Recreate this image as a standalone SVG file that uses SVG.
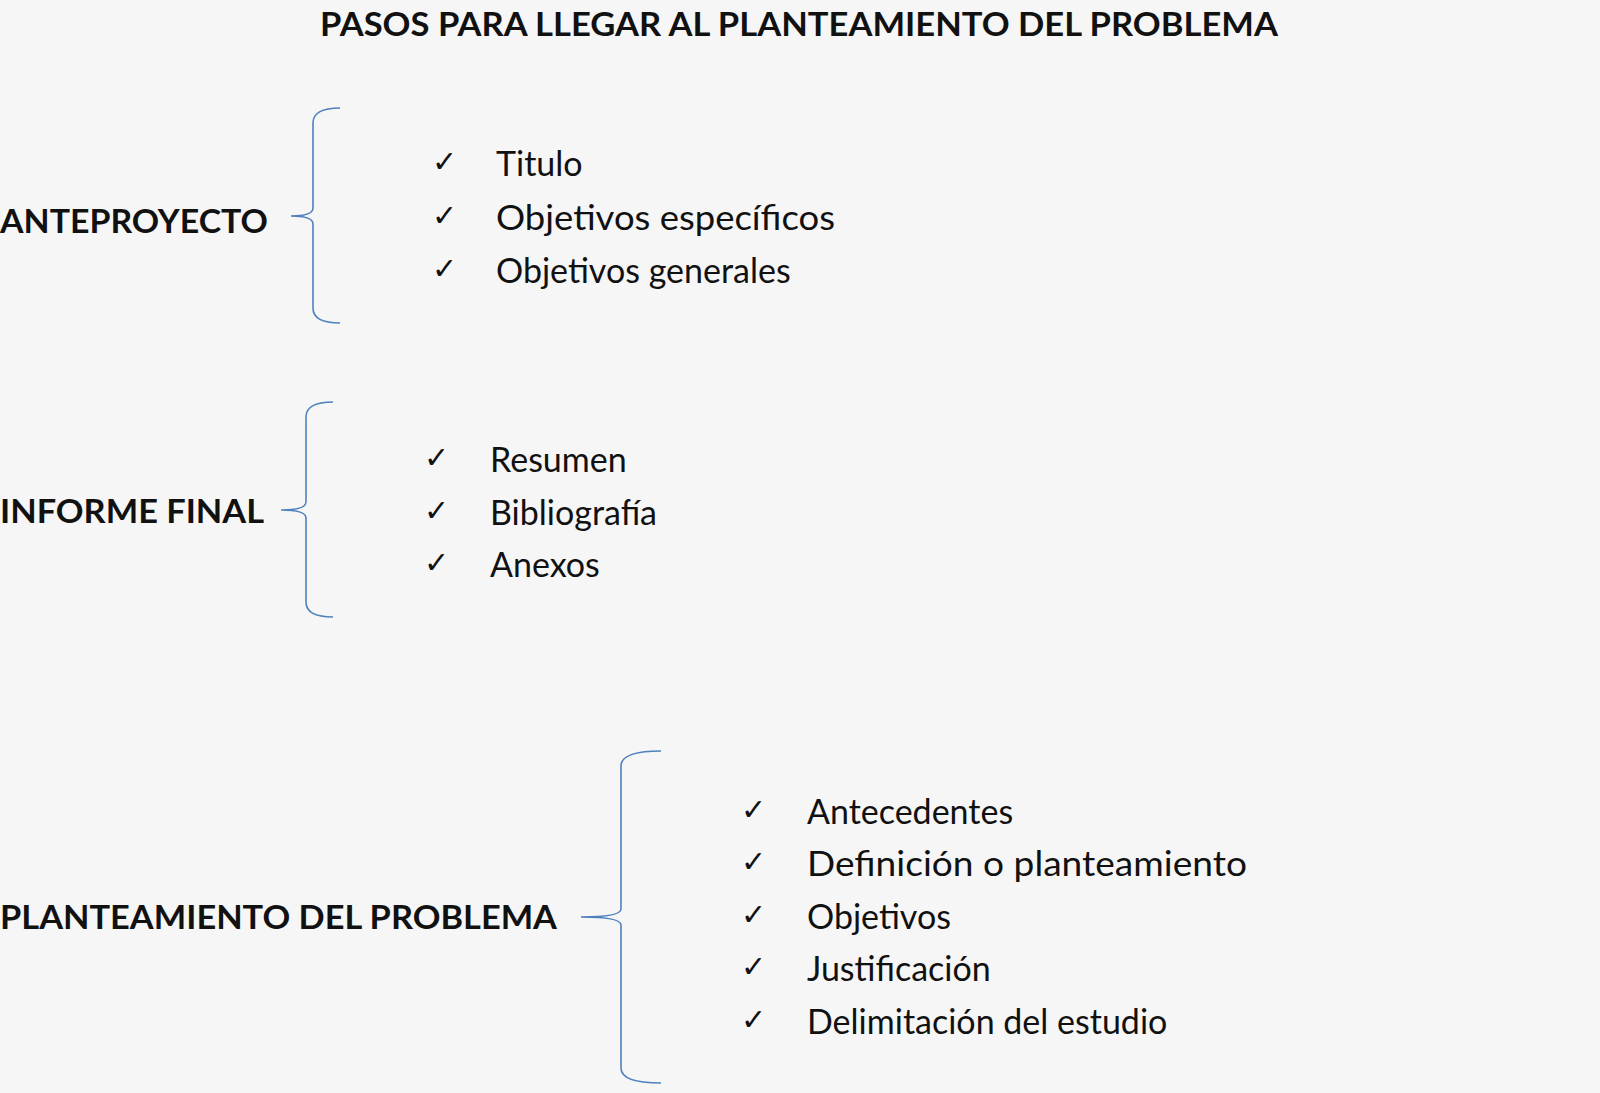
<svg xmlns="http://www.w3.org/2000/svg" width="1600" height="1093" viewBox="0 0 1600 1093">
<style>
text{font-family:Lato,"Open Sans","Liberation Sans",sans-serif;fill:#111}
.h{font-weight:bold;font-size:33px}
.i{font-size:34px}
.c{font-family:"DejaVu Sans",sans-serif;font-size:30px}
.b{fill:none;stroke:#4f81bd;stroke-width:1.6}
</style>
<rect width="1600" height="1093" fill="#f6f6f6"/>
<text class="h" x="799" y="36" text-anchor="middle" textLength="958" lengthAdjust="spacingAndGlyphs">PASOS PARA LLEGAR AL PLANTEAMIENTO DEL PROBLEMA</text>
<g id="connectors">
<path class="b" d="M340,108 Q313,108 313,123 L313,208 Q313,216 291,216 Q313,216 313,224 L313,308 Q313,323 340,323"/>
<path class="b" d="M333,402 Q306,402 306,417 L306,502 Q306,510 281,510 Q306,510 306,518 L306,602 Q306,617 333,617"/>
<path class="b" d="M661,751 Q621,751 621,766 L621,909 Q621,917 581,917 Q621,917 621,925 L621,1068 Q621,1083 661,1083"/>
</g>
<g id="anteproyecto">
<text class="h" x="0" y="233" textLength="268" lengthAdjust="spacingAndGlyphs">ANTEPROYECTO</text>
<text class="c" x="432" y="172">✓</text><text class="i" x="496" y="176">Titulo</text>
<text class="c" x="432" y="226">✓</text><text class="i" x="496" y="230" textLength="339" lengthAdjust="spacingAndGlyphs">Objetivos específicos</text>
<text class="c" x="432" y="279">✓</text><text class="i" x="496" y="283">Objetivos generales</text>
</g>
<g id="informe">
<text class="h" x="0" y="523" textLength="264" lengthAdjust="spacingAndGlyphs">INFORME FINAL</text>
<text class="c" x="424" y="468">✓</text><text class="i" x="490" y="472">Resumen</text>
<text class="c" x="424" y="521">✓</text><text class="i" x="490" y="525">Bibliografía</text>
<text class="c" x="424" y="573">✓</text><text class="i" x="490" y="577">Anexos</text>
</g>
<g id="planteamiento">
<text class="h" x="0" y="929" textLength="557" lengthAdjust="spacingAndGlyphs">PLANTEAMIENTO DEL PROBLEMA</text>
<text class="c" x="741" y="820">✓</text><text class="i" x="807" y="824">Antecedentes</text>
<text class="c" x="741" y="872">✓</text><text class="i" x="807" y="876" textLength="440" lengthAdjust="spacingAndGlyphs">Definición o planteamiento</text>
<text class="c" x="741" y="925">✓</text><text class="i" x="807" y="929">Objetivos</text>
<text class="c" x="741" y="977">✓</text><text class="i" x="807" y="981">Justificación</text>
<text class="c" x="741" y="1030">✓</text><text class="i" x="807" y="1034">Delimitación del estudio</text>
</g>
</svg>
